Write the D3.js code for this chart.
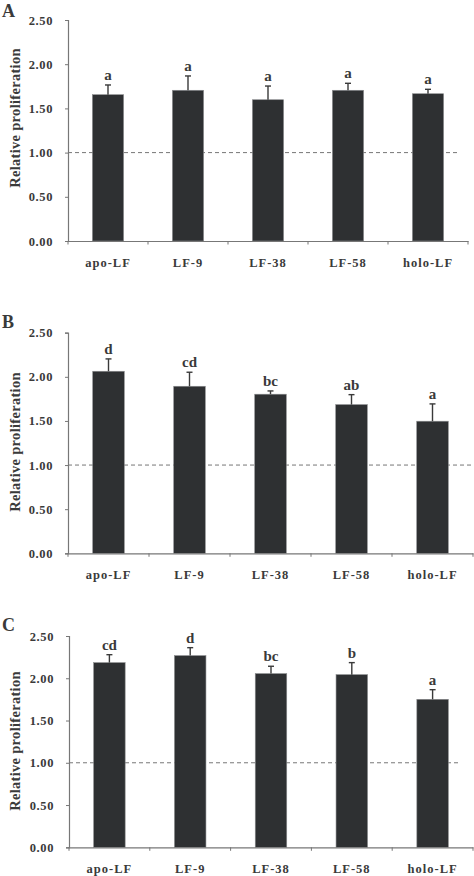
<!DOCTYPE html>
<html>
<head>
<meta charset="utf-8">
<script src="https://cdn.jsdelivr.net/npm/d3@7"></script>
<style>
  body { margin: 0; background: #fff; }
  text { font-family: "Liberation Serif", "Times New Roman", serif; font-weight: bold; fill: #3a3a3a; }
</style>
</head>
<body>
<script>
// Data
const groups = ["apo-LF", "LF-9", "LF-38", "LF-58", "holo-LF"];
const yTicks = [0, 0.5, 1, 1.5, 2, 2.5];

const panelNames = ["A", "B", "C"];
const meansA = [1.655, 1.705, 1.598, 1.705, 1.666];
const errA   = [0.11, 0.162, 0.155, 0.079, 0.05];
const sigA   = ["a", "a", "a", "a", "a"];

const meansB = [2.063, 1.893, 1.803, 1.685, 1.497];
const errB   = [0.14, 0.159, 0.037, 0.113, 0.196];
const sigB   = ["d", "cd", "bc", "ab", "a"];

const meansC = [2.185, 2.268, 2.055, 2.043, 1.751];
const errC   = [0.094, 0.094, 0.087, 0.142, 0.114];
const sigC   = ["cd", "d", "bc", "b", "a"];

const width = 474, height = 876;

const svg = d3.select("body").append("svg")
  .attr("width", width)
  .attr("height", height);

// panel placement on the page
const panels = [
  { name: panelNames[0], means: meansA, err: errA, sig: sigA, top: 20, bottom: 241, left: 68, right: 468, dashEnd: 458, titleY: 118, letterY: 17 },
  { name: panelNames[1], means: meansB, err: errB, sig: sigB, top: 332.7, bottom: 553.3, left: 68, right: 473, dashEnd: 473, titleY: 442, letterY: 328 },
  { name: panelNames[2], means: meansC, err: errC, sig: sigC, top: 636, bottom: 847.3, left: 69, right: 473, dashEnd: 460, titleY: 741, letterY: 631 }
];

panels.forEach(p => {
  const g = svg.append("g");

  const x = d3.scaleBand().domain(groups).range([p.left, p.right]).padding(0);
  const y = d3.scaleLinear().domain([0, 2.5]).range([p.bottom, p.top]);
  const barW = x.bandwidth() * 0.39;

  // y axis
  const yAxis = d3.axisLeft(y)
    .tickValues(yTicks)
    .tickFormat(d3.format(".2f"))
    .tickSize(3)
    .tickPadding(12);
  const ya = g.append("g")
    .attr("transform", `translate(${p.left},0)`)
    .call(yAxis);
  ya.select(".domain").attr("stroke", "#777").attr("stroke-width", 1.2);
  ya.selectAll(".tick line").attr("stroke", "#777");
  ya.selectAll(".tick text")
    .style("font-size", "12.5px")
    .style("letter-spacing", "0.6px")
    .attr("fill", "#444");

  // dashed reference line at 1.00
  g.append("line")
    .attr("x1", p.left).attr("x2", p.dashEnd)
    .attr("y1", y(1)).attr("y2", y(1))
    .attr("stroke", "#777")
    .attr("stroke-width", 1)
    .attr("stroke-dasharray", "4,3");

  // bars
  g.selectAll(".bar")
    .data(groups)
    .enter()
    .append("rect")
    .attr("class", "bar")
    .attr("x", d => x(d) + (x.bandwidth() - barW) / 2)
    .attr("y", (d, i) => y(p.means[i]))
    .attr("width", barW)
    .attr("height", (d, i) => y(0) - y(p.means[i]))
    .attr("fill", "#2e3032")
    .attr("stroke", "#8a8c8e")
    .attr("stroke-width", 0.6);

  // error bars
  const eb = g.selectAll(".err")
    .data(groups)
    .enter()
    .append("g")
    .attr("class", "err");
  eb.append("line")
    .attr("x1", d => x(d) + x.bandwidth() / 2)
    .attr("x2", d => x(d) + x.bandwidth() / 2)
    .attr("y1", (d, i) => y(p.means[i]))
    .attr("y2", (d, i) => y(p.means[i] + p.err[i]))
    .attr("stroke", "#3a3a3a")
    .attr("stroke-width", 1.4);
  eb.append("line")
    .attr("x1", d => x(d) + x.bandwidth() / 2 - 3)
    .attr("x2", d => x(d) + x.bandwidth() / 2 + 3)
    .attr("y1", (d, i) => y(p.means[i] + p.err[i]))
    .attr("y2", (d, i) => y(p.means[i] + p.err[i]))
    .attr("stroke", "#3a3a3a")
    .attr("stroke-width", 1.4);

  // significance letters
  g.selectAll(".sig")
    .data(groups)
    .enter()
    .append("text")
    .attr("class", "sig")
    .attr("x", d => x(d) + x.bandwidth() / 2)
    .attr("y", (d, i) => y(p.means[i] + p.err[i]) - 5)
    .attr("text-anchor", "middle")
    .style("font-size", "15px")
    .text((d, i) => p.sig[i]);

  // x axis
  const xAxis = d3.axisBottom(x).tickSize(0).tickPadding(17);
  const xa = g.append("g")
    .attr("transform", `translate(0,${p.bottom})`)
    .call(xAxis);
  xa.select(".domain").attr("stroke", "#777").attr("stroke-width", 1.2);
  xa.selectAll(".tick text")
    .style("font-size", "12.5px")
    .style("letter-spacing", "1px")
    .attr("fill", "#444");
  // category separators
  g.selectAll(".sep")
    .data(groups)
    .enter()
    .append("line")
    .attr("class", "sep")
    .attr("x1", d => x(d) + x.bandwidth())
    .attr("x2", d => x(d) + x.bandwidth())
    .attr("y1", p.bottom)
    .attr("y2", p.bottom + 3.5)
    .attr("stroke", "#777");
  g.append("line")
    .attr("x1", p.left).attr("x2", p.left)
    .attr("y1", p.bottom).attr("y2", p.bottom + 3.5)
    .attr("stroke", "#777");

  // y axis title
  g.append("text")
    .attr("transform", `translate(20,${p.titleY}) rotate(-90)`)
    .attr("text-anchor", "middle")
    .style("font-size", "14.5px")
    .style("letter-spacing", "0.3px")
    .text("Relative proliferation");

  // panel letter
  g.append("text")
    .attr("x", 2)
    .attr("y", p.letterY)
    .style("font-size", "18px")
    .attr("fill", "#222")
    .text(p.name);
});
</script>
</body>
</html>
